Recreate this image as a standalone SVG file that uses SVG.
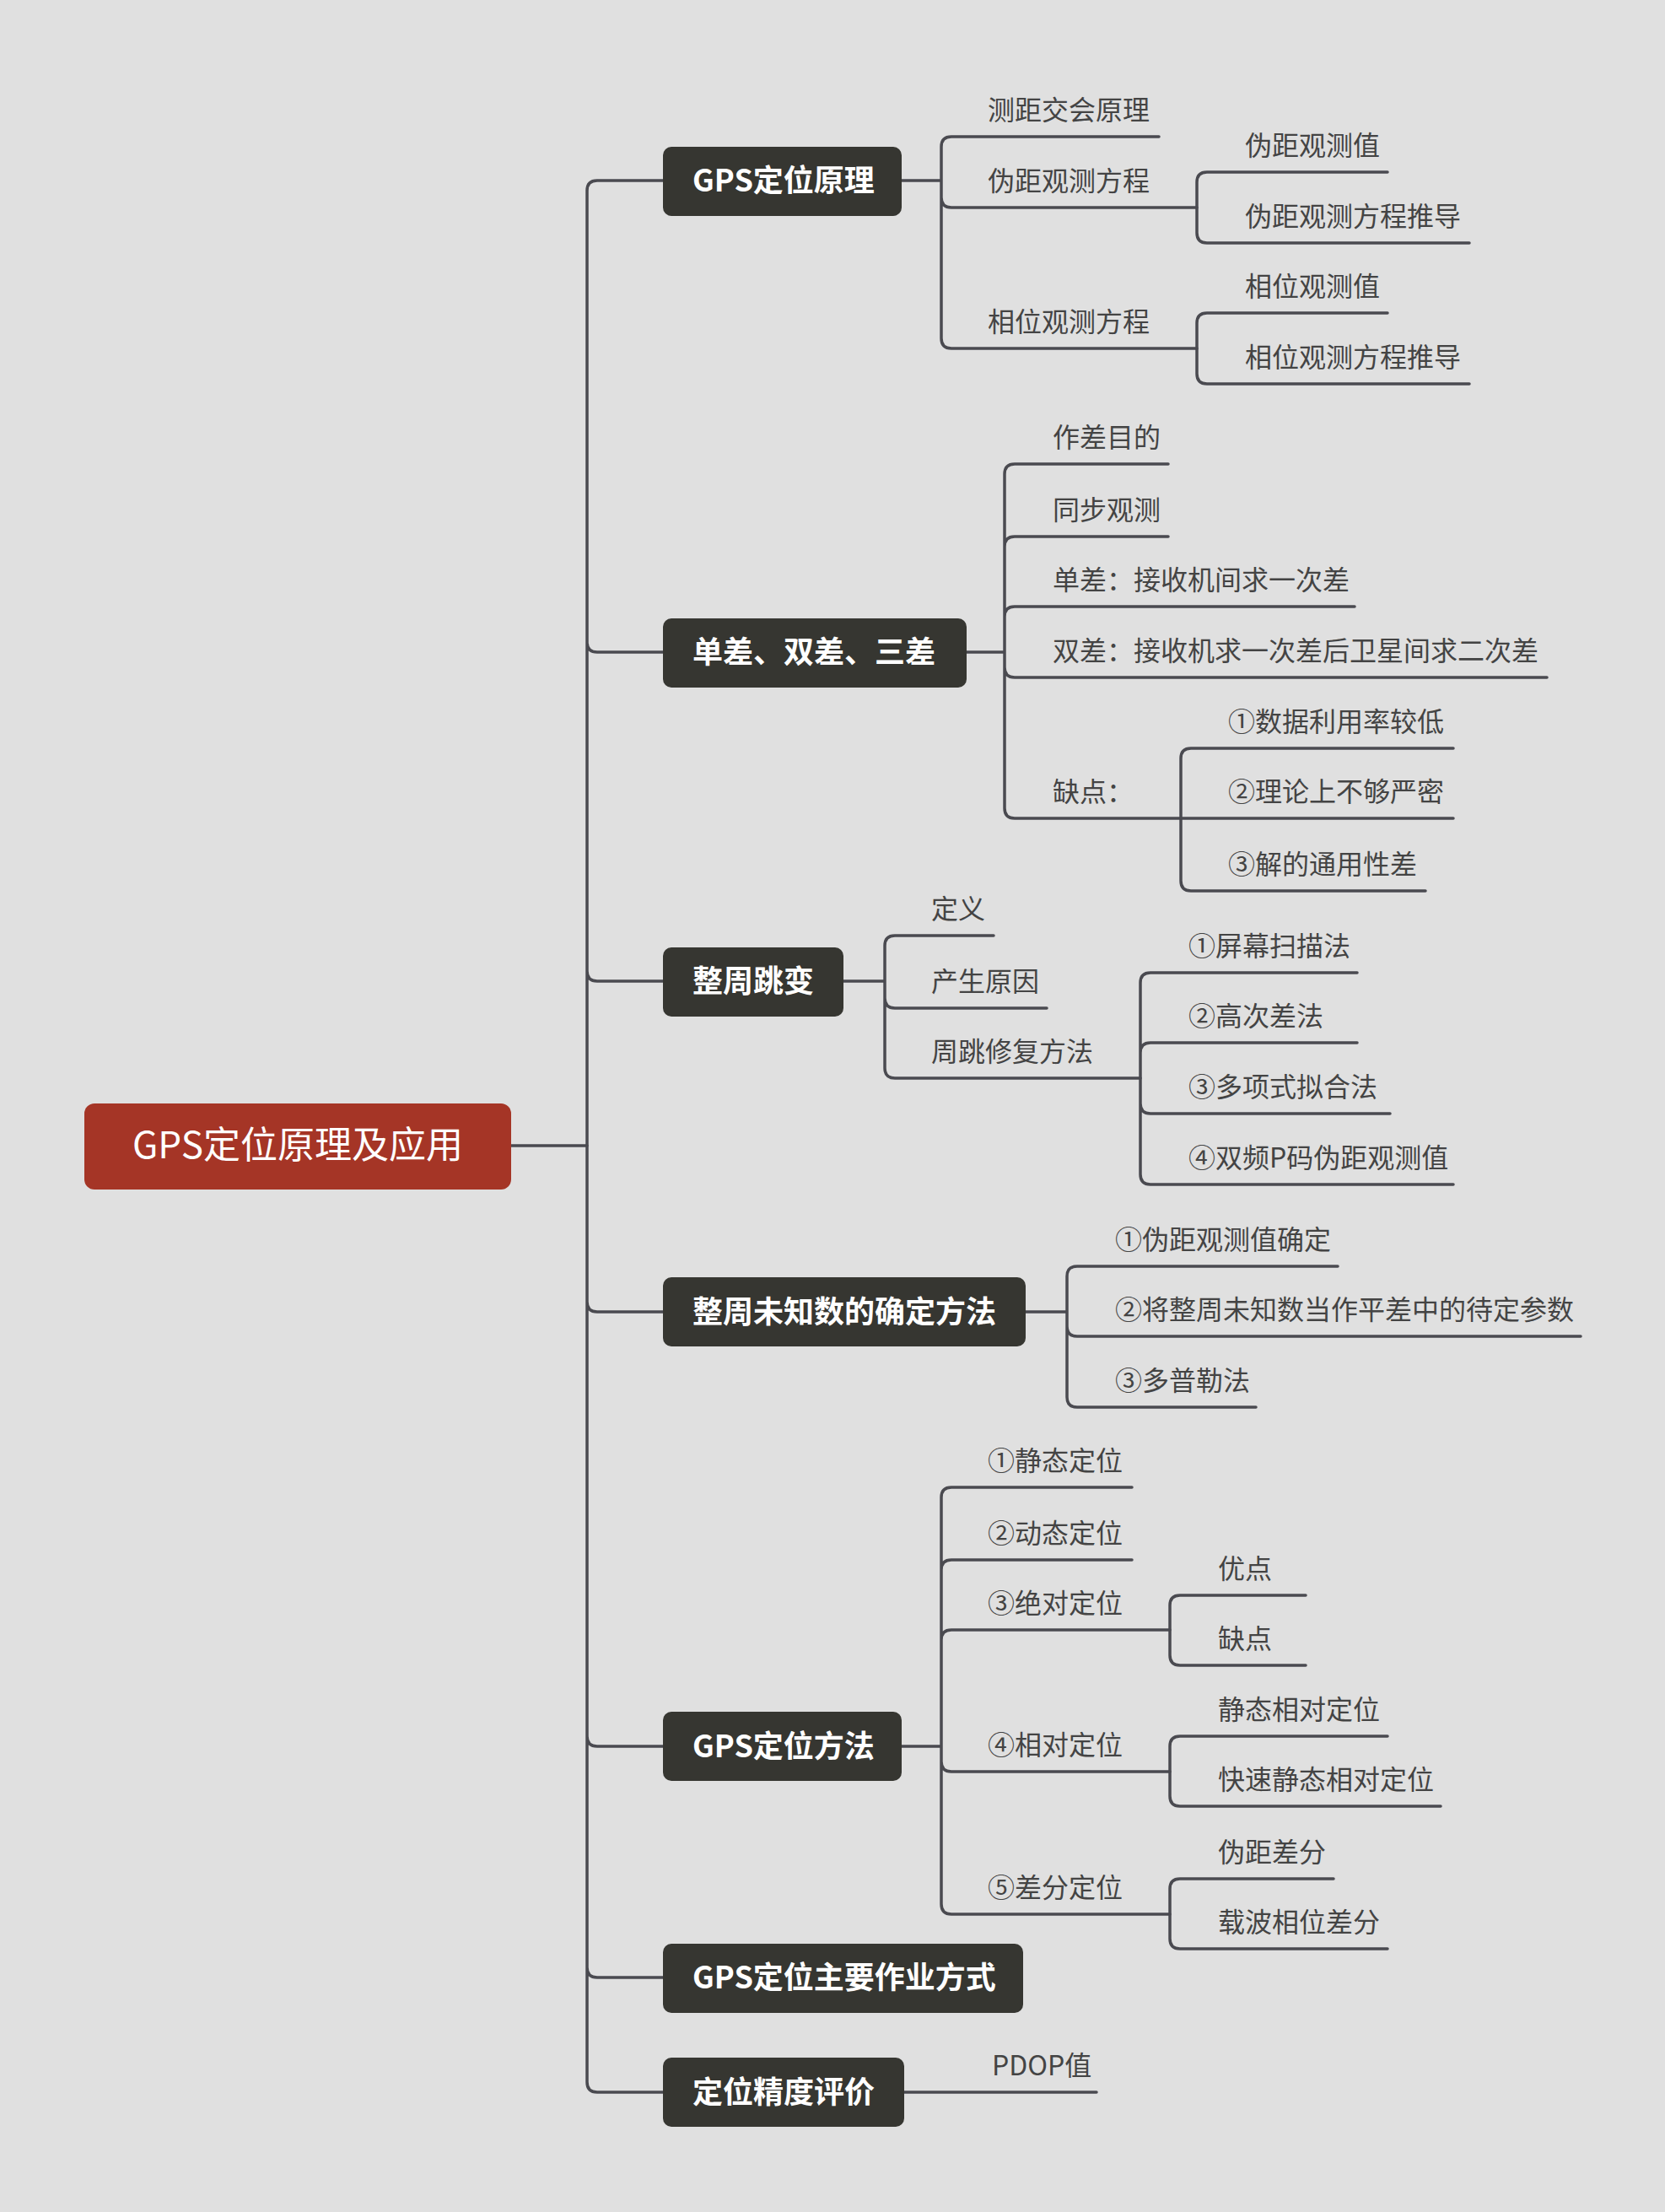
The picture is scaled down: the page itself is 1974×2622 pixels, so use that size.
<svg xmlns="http://www.w3.org/2000/svg" width="1974" height="2622" viewBox="0 0 1974 2622">
<style>
.c{fill:none;stroke:#4a4a50;stroke-width:3.5;stroke-linecap:round}
.box{fill:#363631}
.bt{font-family:"Noto Sans CJK SC","Noto Sans",sans-serif;font-weight:bold;font-size:36px;fill:#fff}
.t{font-family:"Noto Sans CJK SC","Noto Sans",sans-serif;font-size:32px;fill:#444}
</style>
<rect width="1974" height="2622" fill="#e0e0e0"/>
<g id="connectors" class="c">
<path d="M606 1358H696"/>
<path d="M696 1358V226Q696 214 708 214H786M696 1358V761Q696 773 708 773H786M696 1358V1151Q696 1163 708 1163H786M696 1358V1543Q696 1555 708 1555H786M696 1358V2058Q696 2070 708 2070H786M696 1358V2332Q696 2344 708 2344H786M696 1358V2468Q696 2480 708 2480H786"/>
<path d="M1069 214H1116M1116 214V174Q1116 162 1128 162H1374M1116 214V234Q1116 246 1128 246H1419M1116 214V401Q1116 413 1128 413H1419"/>
<path d="M1419 246V216Q1419 204 1431 204H1645M1419 246V276Q1419 288 1431 288H1742"/>
<path d="M1419 413V383Q1419 371 1431 371H1645M1419 413V443Q1419 455 1431 455H1742"/>
<path d="M1146 773H1191M1191 773V562Q1191 550 1203 550H1385M1191 773V648Q1191 636 1203 636H1385M1191 773V731Q1191 719 1203 719H1606M1191 773V791Q1191 803 1203 803H1834M1191 773V958Q1191 970 1203 970H1400"/>
<path d="M1400 970V899Q1400 887 1412 887H1723M1400 970H1723M1400 970V1044Q1400 1056 1412 1056H1690"/>
<path d="M1000 1163H1049M1049 1163V1121Q1049 1109 1061 1109H1178M1049 1163V1183Q1049 1195 1061 1195H1241M1049 1163V1266Q1049 1278 1061 1278H1352"/>
<path d="M1352 1278V1165Q1352 1153 1364 1153H1609M1352 1278V1248Q1352 1236 1364 1236H1609M1352 1278V1308Q1352 1320 1364 1320H1648M1352 1278V1392Q1352 1404 1364 1404H1723"/>
<path d="M1216 1555H1265M1265 1555V1513Q1265 1501 1277 1501H1586M1265 1555V1572Q1265 1584 1277 1584H1874M1265 1555V1656Q1265 1668 1277 1668H1489"/>
<path d="M1069 2070H1116M1116 2070V1775Q1116 1763 1128 1763H1342M1116 2070V1861Q1116 1849 1128 1849H1342M1116 2070V1944Q1116 1932 1128 1932H1387M1116 2070V2088Q1116 2100 1128 2100H1387M1116 2070V2257Q1116 2269 1128 2269H1387"/>
<path d="M1387 1932V1903Q1387 1891 1399 1891H1548M1387 1932V1962Q1387 1974 1399 1974H1548"/>
<path d="M1387 2100V2070Q1387 2058 1399 2058H1645M1387 2100V2129Q1387 2141 1399 2141H1708"/>
<path d="M1387 2269V2239Q1387 2227 1399 2227H1581M1387 2269V2298Q1387 2310 1399 2310H1645"/>
<path d="M1072 2480H1300"/>
</g>
<g id="root"><rect x="100" y="1308" width="506" height="102" rx="12" fill="#a53526"/><text x="353" y="1373" text-anchor="middle" font-family="Noto Sans CJK SC,Noto Sans,sans-serif" font-size="44" fill="#fff">GPS定位原理及应用</text></g>
<g id="n1"><rect class="box" x="786" y="174" width="283" height="82" rx="10"/><text class="bt" x="821" y="227">GPS定位原理</text></g>
<g id="n2"><rect class="box" x="786" y="733" width="360" height="82" rx="10"/><text class="bt" x="821" y="786">单差、双差、三差</text></g>
<g id="n3"><rect class="box" x="786" y="1123" width="214" height="82" rx="10"/><text class="bt" x="821" y="1176">整周跳变</text></g>
<g id="n4"><rect class="box" x="786" y="1514" width="430" height="82" rx="10"/><text class="bt" x="821" y="1568">整周未知数的确定方法</text></g>
<g id="n5"><rect class="box" x="786" y="2029" width="283" height="82" rx="10"/><text class="bt" x="821" y="2083">GPS定位方法</text></g>
<g id="n6"><rect class="box" x="786" y="2304" width="427" height="82" rx="10"/><text class="bt" x="821" y="2357">GPS定位主要作业方式</text></g>
<g id="n7"><rect class="box" x="786" y="2439" width="286" height="82" rx="10"/><text class="bt" x="821" y="2493">定位精度评价</text></g>
<g id="leaves">
<text class="t" x="1171" y="142">测距交会原理</text>
<text class="t" x="1171" y="226">伪距观测方程</text>
<text class="t" x="1476" y="184">伪距观测值</text>
<text class="t" x="1476" y="268">伪距观测方程推导</text>
<text class="t" x="1171" y="393">相位观测方程</text>
<text class="t" x="1476" y="351">相位观测值</text>
<text class="t" x="1476" y="435">相位观测方程推导</text>
<text class="t" x="1248" y="530">作差目的</text>
<text class="t" x="1248" y="616">同步观测</text>
<text class="t" x="1248" y="699">单差：接收机间求一次差</text>
<text class="t" x="1248" y="783">双差：接收机求一次差后卫星间求二次差</text>
<text class="t" x="1248" y="950">缺点：</text>
<text class="t" x="1456" y="867">①数据利用率较低</text>
<text class="t" x="1456" y="950">②理论上不够严密</text>
<text class="t" x="1456" y="1036">③解的通用性差</text>
<text class="t" x="1104" y="1089">定义</text>
<text class="t" x="1104" y="1175">产生原因</text>
<text class="t" x="1104" y="1258">周跳修复方法</text>
<text class="t" x="1409" y="1133">①屏幕扫描法</text>
<text class="t" x="1409" y="1216">②高次差法</text>
<text class="t" x="1409" y="1300">③多项式拟合法</text>
<text class="t" x="1409" y="1384">④双频P码伪距观测值</text>
<text class="t" x="1322" y="1481">①伪距观测值确定</text>
<text class="t" x="1322" y="1564">②将整周未知数当作平差中的待定参数</text>
<text class="t" x="1322" y="1648">③多普勒法</text>
<text class="t" x="1171" y="1743">①静态定位</text>
<text class="t" x="1171" y="1829">②动态定位</text>
<text class="t" x="1171" y="1912">③绝对定位</text>
<text class="t" x="1444" y="1871">优点</text>
<text class="t" x="1444" y="1954">缺点</text>
<text class="t" x="1171" y="2080">④相对定位</text>
<text class="t" x="1444" y="2038">静态相对定位</text>
<text class="t" x="1444" y="2121">快速静态相对定位</text>
<text class="t" x="1171" y="2249">⑤差分定位</text>
<text class="t" x="1444" y="2207">伪距差分</text>
<text class="t" x="1444" y="2290">载波相位差分</text>
<text class="t" x="1176" y="2460">PDOP值</text>
</g>
</svg>
